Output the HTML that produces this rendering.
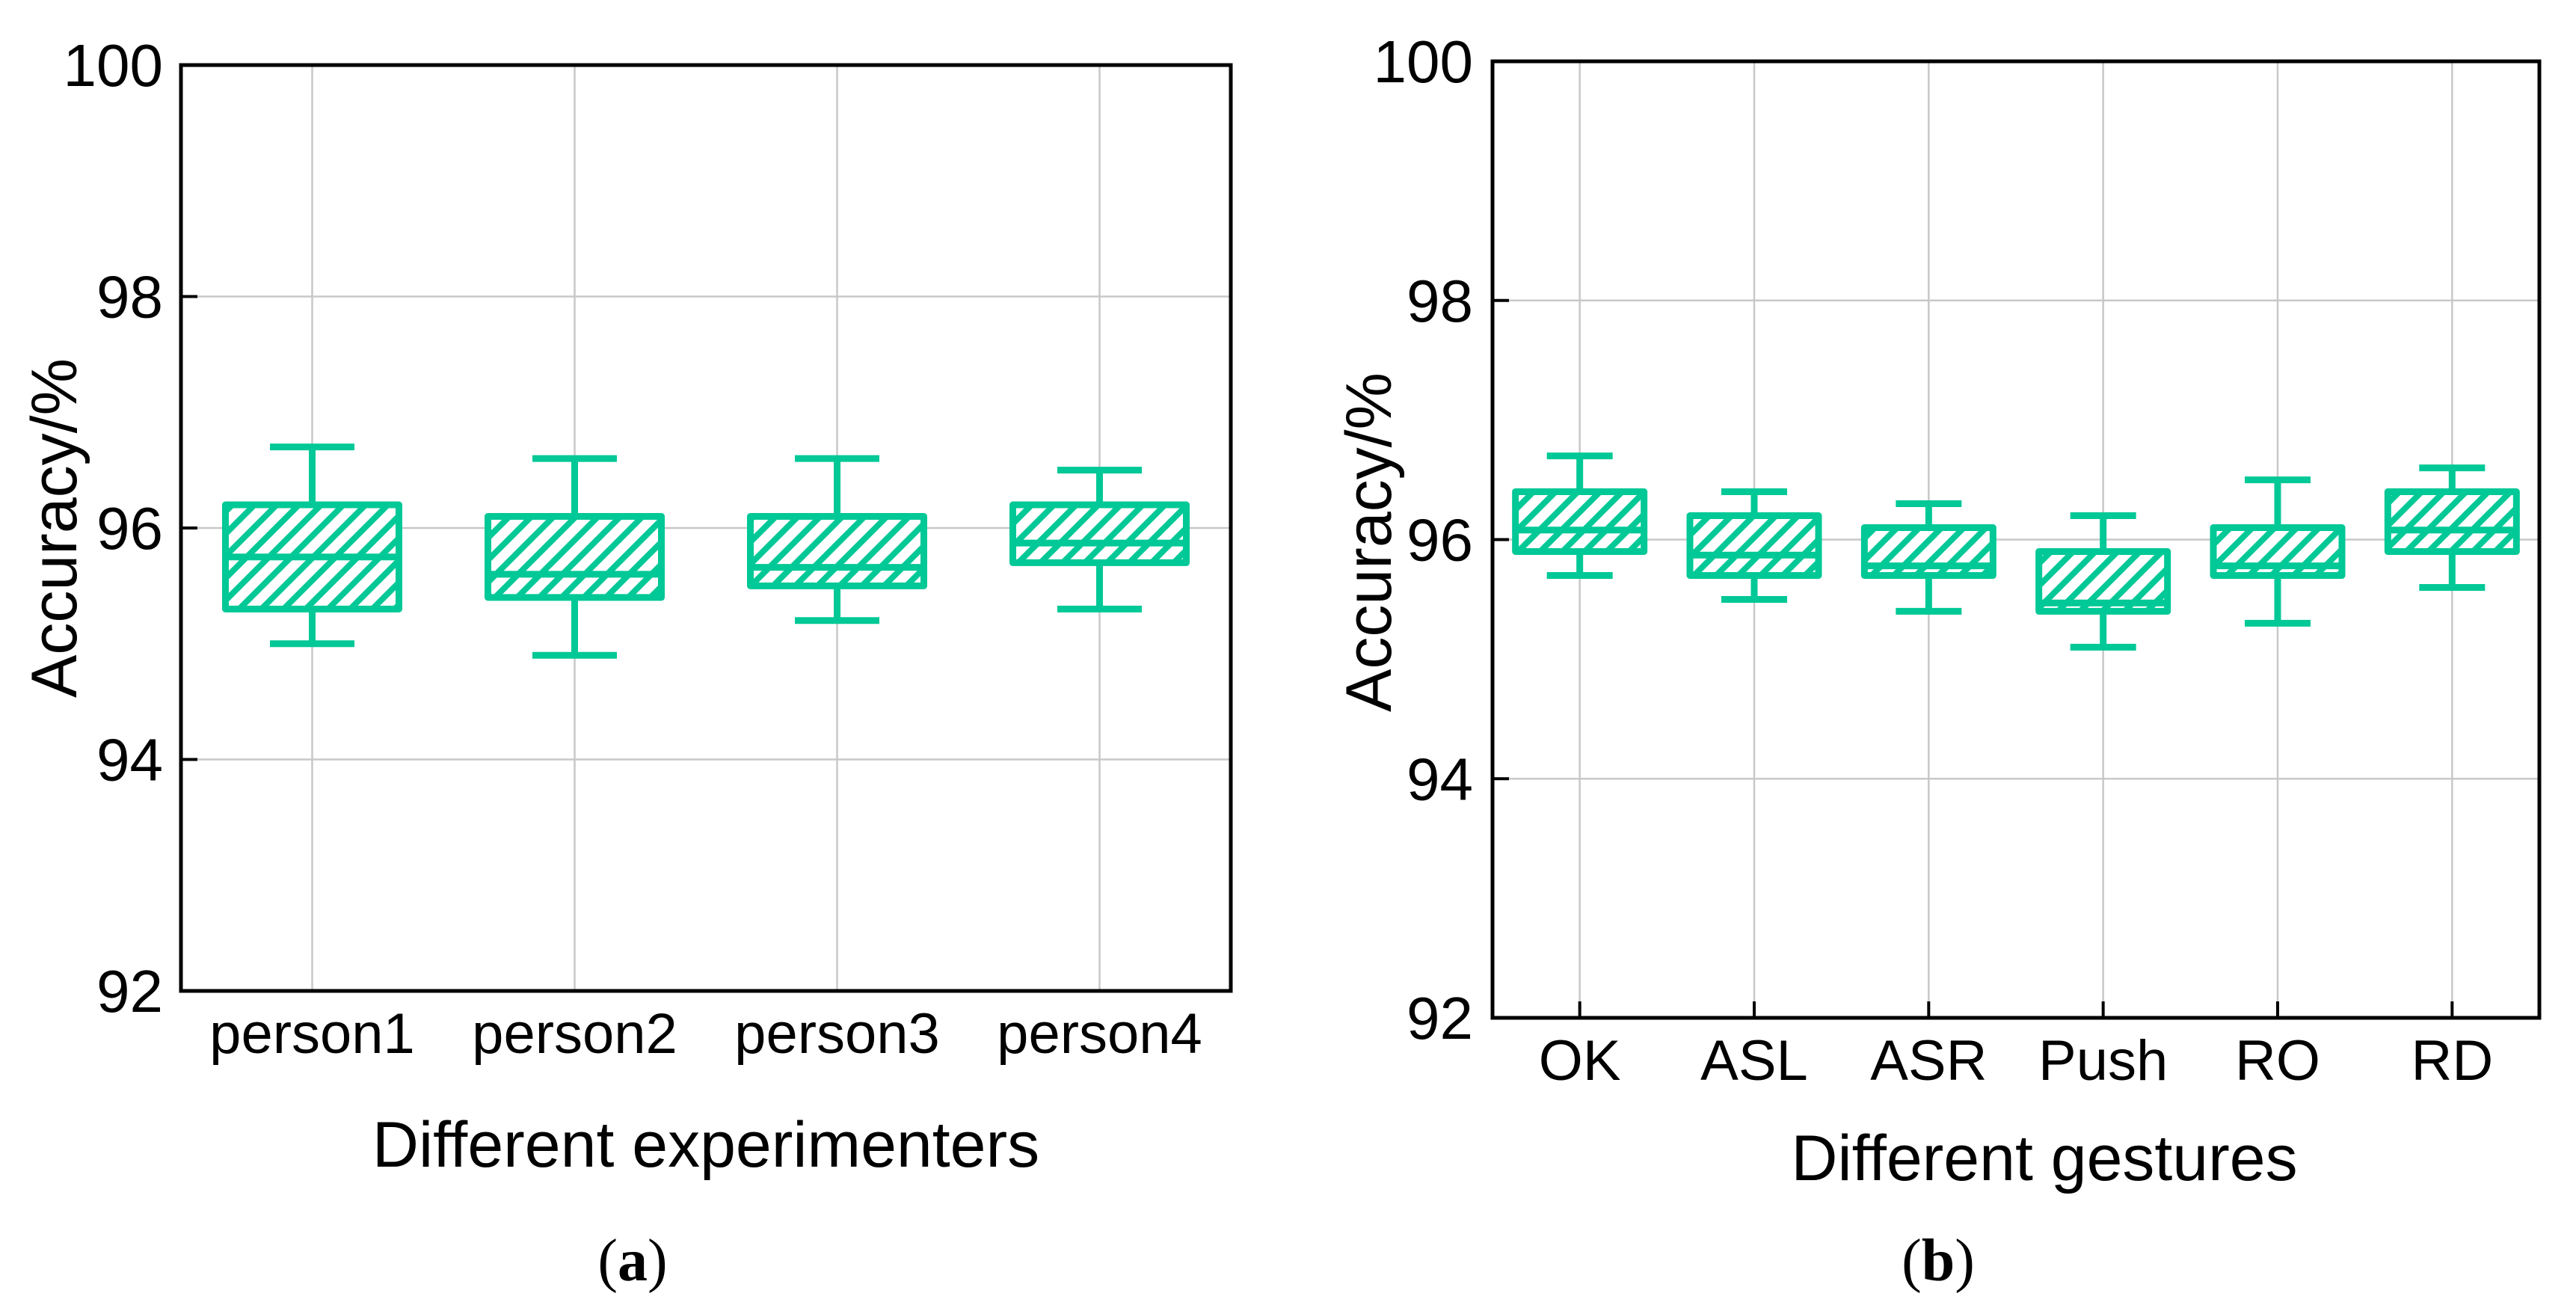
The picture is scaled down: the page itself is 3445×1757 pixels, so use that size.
<!DOCTYPE html>
<html><head><meta charset="utf-8"><style>
html,body{margin:0;padding:0;background:#fff;}
svg{display:block;font-family:"Liberation Sans",sans-serif;}
</style></head><body>
<svg id="fig" width="3445" height="1757" viewBox="0 0 3445 1757" xmlns="http://www.w3.org/2000/svg">
<defs>
<pattern id="hatch" patternUnits="userSpaceOnUse" width="21" height="21" patternTransform="rotate(45)">
<rect width="21" height="21" fill="#fff"/>
<rect x="0" y="0" width="8" height="21" fill="#00c896"/>
</pattern>
</defs>
<g id="chartA"></g>
<g id="chartB"></g>
<text x="846" y="1712" font-family="Liberation Serif, serif" font-size="80" text-anchor="middle">(<tspan font-weight="bold">a</tspan>)</text>
<text x="2592" y="1712" font-family="Liberation Serif, serif" font-size="80" text-anchor="middle">(<tspan font-weight="bold">b</tspan>)</text>
</svg>
<script>
const catsA = ["person1","person2","person3","person4"];
const whiskerHighA = [96.7,96.6,96.6,96.5];
const q3A = [96.2,96.1,96.1,96.2];
const medianA = [95.75,95.6,95.66,95.87];
const q1A = [95.3,95.4,95.5,95.7];
const whiskerLowA = [95.0,94.9,95.2,95.3];

const catsB = ["OK","ASL","ASR","Push","RO","RD"];
const whiskerHighB = [96.7,96.4,96.3,96.2,96.5,96.6];
const q3B = [96.4,96.2,96.1,95.9,96.1,96.4];
const medianB = [96.08,95.87,95.78,95.47,95.78,96.08];
const q1B = [95.9,95.7,95.7,95.4,95.7,95.9];
const whiskerLowB = [95.7,95.5,95.4,95.1,95.3,95.6];

const yTicks = [92,94,96,98,100];
const yMin = 92, yMax = 100;
const NS = "http://www.w3.org/2000/svg";
const GREEN = "#00c896";

function el(parent, tag, attrs){
  const e = document.createElementNS(NS, tag);
  for (const k in attrs) e.setAttribute(k, attrs[k]);
  parent.appendChild(e);
  return e;
}

function drawChart(g, cfg){
  const {L,T,R,B,cats,hi,q3,med,q1,lo,boxW,capW,xTitle,titleX,titleY,yTitleX,yTitleY,catY,tickLabelX,bottomTicks} = cfg;
  const W = R-L, H = B-T;
  const yS = v => B - (v-yMin)/(yMax-yMin)*H;
  const xS = i => L + (i+0.5)*W/cats.length;
  yTicks.forEach(t=>{
    if (t===yMin || t===yMax) return;
    const ln = el(g,"line",{x1:L,x2:R,y1:yS(t),y2:yS(t),stroke:"#c8c8c8","stroke-width":2.5});
    
    
    const tk = el(g,"line",{x1:L,x2:L+22,y1:yS(t),y2:yS(t),stroke:"#000","stroke-width":4});
    
    
  });
  cats.forEach((c,i)=>{
    const ln = el(g,"line",{x1:xS(i),x2:xS(i),y1:T,y2:B,stroke:"#c8c8c8","stroke-width":2.5});
    
    
    if (bottomTicks){
      const tk = el(g,"line",{x1:xS(i),x2:xS(i),y1:B,y2:B-22,stroke:"#000","stroke-width":4});
      
      
    }
  });
  cats.forEach((c,i)=>{
    const x = xS(i);
    const bg = el(g,"g",{});
    
    
    el(bg,"line",{x1:x,x2:x,y1:yS(hi[i]),y2:yS(q3[i]),stroke:GREEN,"stroke-width":9});
    el(bg,"line",{x1:x,x2:x,y1:yS(q1[i]),y2:yS(lo[i]),stroke:GREEN,"stroke-width":9});
    el(bg,"line",{x1:x-capW/2,x2:x+capW/2,y1:yS(hi[i]),y2:yS(hi[i]),stroke:GREEN,"stroke-width":9});
    el(bg,"line",{x1:x-capW/2,x2:x+capW/2,y1:yS(lo[i]),y2:yS(lo[i]),stroke:GREEN,"stroke-width":9});
    el(bg,"rect",{x:x-boxW/2,y:yS(q3[i]),width:boxW,height:yS(q1[i])-yS(q3[i]),fill:"url(#hatch)",stroke:GREEN,"stroke-width":9,"stroke-linejoin":"round"});
    el(bg,"line",{x1:x-boxW/2,x2:x+boxW/2,y1:yS(med[i]),y2:yS(med[i]),stroke:GREEN,"stroke-width":9});
    const lab = el(g,"text",{x:x,y:catY,"font-size":76,"text-anchor":"middle"});
    lab.textContent = c;
    
    
  });
  yTicks.forEach(t=>{
    const lab = el(g,"text",{x:tickLabelX,y:yS(t)+28,"font-size":80,"text-anchor":"end"});
    lab.textContent = t;
    
    
  });
  const fr = el(g,"rect",{x:L,y:T,width:W,height:H,fill:"none",stroke:"#000","stroke-width":5});
  
  
  const xt = el(g,"text",{x:titleX,y:titleY,"font-size":86,"text-anchor":"middle"});
  xt.textContent = xTitle;
  
  
  const yt = el(g,"text",{x:0,y:0,"font-size":86,"text-anchor":"middle",transform:`translate(${yTitleX},${yTitleY}) rotate(-90)`});
  yt.textContent = "Accuracy/%";
  
  
}

drawChart(document.getElementById('chartA'),{L:242,T:87,R:1646,B:1325,cats:catsA,hi:whiskerHighA,q3:q3A,med:medianA,q1:q1A,lo:whiskerLowA,
  boxW:232,capW:113,xTitle:"Different experimenters",titleX:944,titleY:1560,yTitleX:102,yTitleY:706,catY:1408,tickLabelX:218,bottomTicks:false});
drawChart(document.getElementById('chartB'),{L:1996,T:82,R:3396,B:1361,cats:catsB,hi:whiskerHighB,q3:q3B,med:medianB,q1:q1B,lo:whiskerLowB,
  boxW:172,capW:88,xTitle:"Different gestures",titleX:2734,titleY:1578,yTitleX:1860,yTitleY:725,catY:1444,tickLabelX:1970,bottomTicks:true});
</script>
</body></html>
